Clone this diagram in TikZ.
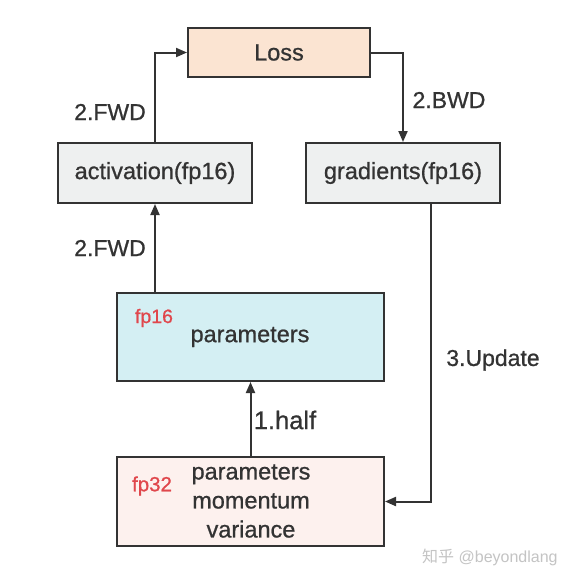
\documentclass[tikz,border=0pt]{standalone}
\usepackage{fontspec}
\setmainfont{Liberation Sans}[FakeBold=0.8]
\newfontfamily\cjk{Noto Sans CJK SC}
\newfontfamily\wmfont{Liberation Sans}
\usetikzlibrary{arrows.meta}
\definecolor{edge}{HTML}{333333}
\definecolor{lossfill}{HTML}{FBE4D2}
\definecolor{grayfill}{HTML}{EEF0F0}
\definecolor{cyanfill}{HTML}{D4EFF3}
\definecolor{pinkfill}{HTML}{FDF1EE}
\definecolor{redtxt}{HTML}{E0474C}
\definecolor{wm}{HTML}{C4C4C4}
\tikzset{
  box/.style={draw=edge, line width=2pt, rectangle, inner sep=0pt, text=edge,
    font=\fontsize{23.5}{28}\selectfont},
  conn/.style={draw=edge, line width=2pt, -{Triangle[length=11pt,width=9pt]}},
  lbl/.style={text=edge, font=\fontsize{23}{28}\selectfont, inner sep=0pt},
  tag/.style={text=redtxt, font=\fontsize{19.5}{24}\selectfont, inner sep=0pt},
}
\begin{document}
\begin{tikzpicture}[x=1pt,y=-1pt]
\useasboundingbox[fill=white] (0,0) rectangle (576,584);
\node[box, fill=lossfill, minimum width=182pt, minimum height=49pt] (loss) at (279,52.5) {Loss};
\node[box, fill=grayfill, minimum width=194pt, minimum height=60pt] (act) at (155,173) {activation(fp16)};
\node[box, fill=grayfill, minimum width=194pt, minimum height=60pt] (grad) at (403,173) {gradients(fp16)};
\node[box, fill=cyanfill, minimum width=267pt, minimum height=88pt] (p16) at (250.5,337) {};
\node[box, fill=pinkfill, minimum width=267pt, minimum height=89pt] (p32) at (250.5,501.5) {};
\node[lbl, font=\fontsize{23.5}{28}\selectfont] (p16t) at (250,337) {parameters};
\node[tag] (p16tag) at (154,318) {fp16};
\node[lbl, font=\fontsize{23.5}{29}\selectfont, align=center] (p32t) at (251,501) {parameters\\momentum\\variance};
\node[tag, font=\fontsize{20.5}{24}\selectfont] (p32tag) at (152,486) {fp32};
\coordinate (gu) at ([xshift=28pt]grad.south);
\draw[conn] (act.north) |- (loss.west);
\draw[conn] (loss.east) -| (grad.north);
\draw[conn] (act.south |- p16.north) -- (act.south);
\draw[conn] (p32.north) -- (p16.south);
\draw[conn] (gu) |- (p32.east);
\node[lbl] (l1) at (110,112) {2.FWD};
\node[lbl] (l2) at (449,100) {2.BWD};
\node[lbl] (l3) at (110,248) {2.FWD};
\node[lbl, font=\fontsize{25.5}{30}\selectfont] (l4) at (285,420) {1.half};
\node[lbl] (l5) at (493,360) {3.Update};
\node[text=wm, font=\wmfont\fontsize{16}{20}\selectfont, inner sep=0pt, anchor=west] (wmk) at (422,557) {{\cjk 知乎} @beyondlang};
\end{tikzpicture}
\end{document}
